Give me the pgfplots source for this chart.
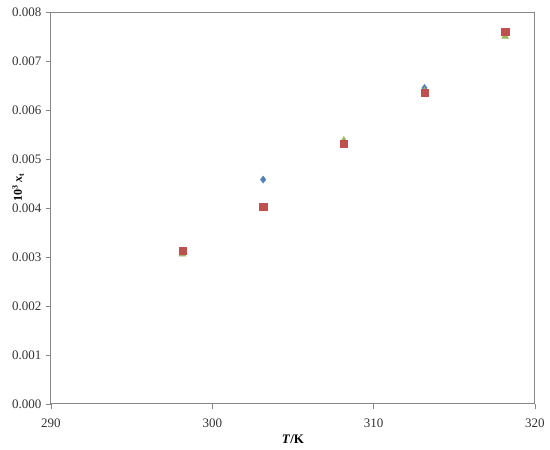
\documentclass[border=0pt]{standalone}
\usepackage{pgfplots}
\pgfplotsset{compat=1.18}
\usepackage{fontspec}
\setmainfont{Liberation Serif}
\definecolor{xblue}{HTML}{4F81BD}
\definecolor{xred}{HTML}{C0504D}
\definecolor{xgreen}{HTML}{9BBB59}
\definecolor{axgray}{HTML}{868686}
\begin{document}
\begin{tikzpicture}[x=1pt,y=1pt]
\useasboundingbox (0,0) rectangle (550,450);
\begin{axis}[
  scale only axis, width=484pt, height=392pt,
  at={(51pt,46pt)}, anchor=south west,
  xmin=290, xmax=320, ymin=0, ymax=0.008,
  xtick={290,300,...,320},
  ytick={0,0.001,...,0.008},
  yticklabel style={xshift=-1pt, /pgf/number format/.cd,fixed,fixed zerofill,precision=3},
  scaled y ticks=false,
  /pgf/number format/assume math mode=true,
  tick label style={font=\fontsize{13}{15}\selectfont, text=black!80},
  xticklabel style={yshift=-6pt},
  tick align=outside, tick pos=left,
  major tick length=5pt,
  axis line style={axgray, line width=1pt},
  every tick/.style={axgray, line width=0.8pt},
  xlabel={\textbf{\textit{T}/K}},
  ylabel={\textbf{10\textsuperscript{3} \textit{x}\textsubscript{t}}},
  xlabel style={yshift=-1pt, font=\fontsize{13}{15}\selectfont},
  ylabel style={at={(axis description cs:-0.068,0.552)}, anchor=center, font=\fontsize{12}{14}\selectfont},
  clip=false,
]
\addplot[only marks, mark=diamond*, mark size=3.6pt, color=xblue] coordinates {
 (298.15,0.00311) (303.15,0.00458) (308.15,0.00534) (313.15,0.00645) (318.15,0.00755)};
\addplot[only marks, mark=triangle*, mark size=4.0pt, color=xgreen] coordinates {
 (298.15,0.00306) (303.15,0.00401) (308.15,0.00538) (313.15,0.00638) (318.15,0.00750)};
\addplot[only marks, mark=square*, mark size=3.6pt, color=xred] coordinates {
 (298.15,0.00313) (303.15,0.00402) (308.15,0.00531) (313.15,0.00636) (318.15,0.00759)};
\end{axis}
\end{tikzpicture}
\end{document}
